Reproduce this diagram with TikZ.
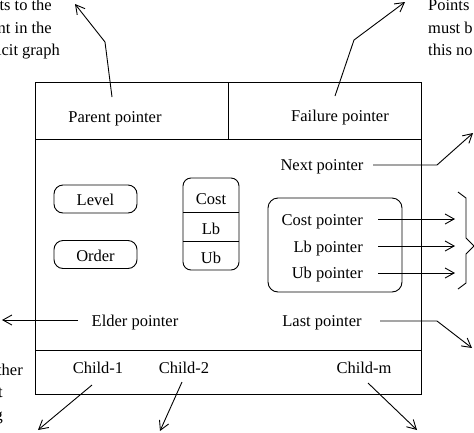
\documentclass[tikz,border=0pt]{standalone}
\usepackage{fontspec}
\setmainfont{Liberation Serif}
\usetikzlibrary{arrows.meta}
\begin{document}
\begin{tikzpicture}[x=1pt,y=-1pt,
  every node/.style={font=\fontsize{16.5}{20}\selectfont, inner sep=0pt, anchor=base},
  ln/.style={line width=0.9pt},
  arr/.style={ln, -{Straight Barb[length=9pt,width=10pt,line width=0.9pt]}},
  fld/.style={draw, line width=0.9pt, rounded corners=9pt, minimum width=83pt, minimum height=28pt, anchor=center},
]
\useasboundingbox (0,0) rectangle (474,432);
\clip (0,0) rectangle (474,432);
% outer record
\draw[ln] (35,82) rectangle (421,394);
\draw[ln] (35,139) -- (421,139);
\draw[ln] (228,82) -- (228,139);
\draw[ln] (35,350) -- (421,350);
% header fields
\node (parent) at (115,122) {Parent pointer};
\node (failure) at (340,121) {Failure pointer};
% next pointer
\node (next) at (322,170) {Next pointer};
% level / order
\node[fld] (level) at (95.5,199) {};
\node at (95.5,205) {Level};
\node[fld] (order) at (95.5,254.5) {};
\node at (95.5,261) {Order};
% cost/lb/ub block
\draw[ln, rounded corners=8pt] (183,178) rectangle (239,270);
\draw[ln] (183,212) -- (239,212);
\draw[ln] (183,241) -- (239,241);
\node (cost) at (211,204) {Cost};
\node (lb) at (211,234) {Lb};
\node (ub) at (211,263) {Ub};
% pointer block
\draw[ln, rounded corners=10pt] (268,198) rectangle (402,292);
\node[anchor=base east] (costp) at (363,225) {Cost pointer};
\node[anchor=base east] (lbp) at (363,252) {Lb pointer};
\node[anchor=base east] (ubp) at (363,278) {Ub pointer};
% elder / last
\node (elder) at (135,326) {Elder pointer};
\node (last) at (322,326) {Last pointer};
% children
\node (c1) at (98,373) {Child-1};
\node (c2) at (184,373) {Child-2};
\node (cm) at (364,373) {Child-m};
% side texts (cropped)
\node[anchor=base east] (tl1) at (52,10) {ts to the};
\node[anchor=base east] (tl2) at (52,33) {nt in the};
\node[anchor=base east] (tl3) at (60,55) {icit graph};
\node[anchor=base west] (tr1) at (428,10) {Points};
\node[anchor=base west] (tr2) at (428,33) {must b};
\node[anchor=base west] (tr3) at (428,55) {this no};
\node[anchor=base east] (bl1) at (23,375) {ther};
\node[anchor=base east] (bl2) at (3,397) {t};
\node[anchor=base east] (bl3) at (3,420) {g};
% connector coordinates
\coordinate (pa0) at (112,97);
\coordinate (pa1) at (105,42);
\coordinate (pa2) at (75,4);
\coordinate (fa0) at (335,96);
\coordinate (fa1) at (354,40);
\coordinate (fa2) at (405,2);
\coordinate (ne0) at (373,165);
\coordinate (ne1) at (437,165);
\coordinate (ne2) at (473,133);
\coordinate (cp0) at (378,219);
\coordinate (cp1) at (455,219);
\coordinate (lp0) at (378,246);
\coordinate (lp1) at (455,246);
\coordinate (up0) at (378,273);
\coordinate (up1) at (455,273);
\coordinate (el0) at (78,320);
\coordinate (el1) at (2,320);
\coordinate (la0) at (380,321);
\coordinate (la1) at (437,321);
\coordinate (la2) at (472,348);
\coordinate (c10) at (92,385);
\coordinate (c11) at (38,430);
\coordinate (c20) at (182,382);
\coordinate (c21) at (160,431);
\coordinate (cm0) at (368,383);
\coordinate (cm1) at (417,430);
% connectors
\draw[arr] (pa0) -- (pa1) -- (pa2);
\draw[arr] (fa0) -- (fa1) -- (fa2);
\draw[arr] (ne0) -- (ne1) -- (ne2);
\draw[arr] (cp0) -- (cp1);
\draw[arr] (lp0) -- (lp1);
\draw[arr] (up0) -- (up1);
\draw[arr] (el0) -- (el1);
\draw[arr] (la0) -- (la1) -- (la2);
\draw[arr] (c10) -- (c11);
\draw[arr] (c20) -- (c21);
\draw[arr] (cm0) -- (cm1);
% brace
\draw[ln] (458,192) -- (466,198) -- (466,238) -- (474,246) -- (466,254) -- (466,283) -- (458,289);
\end{tikzpicture}
\end{document}
